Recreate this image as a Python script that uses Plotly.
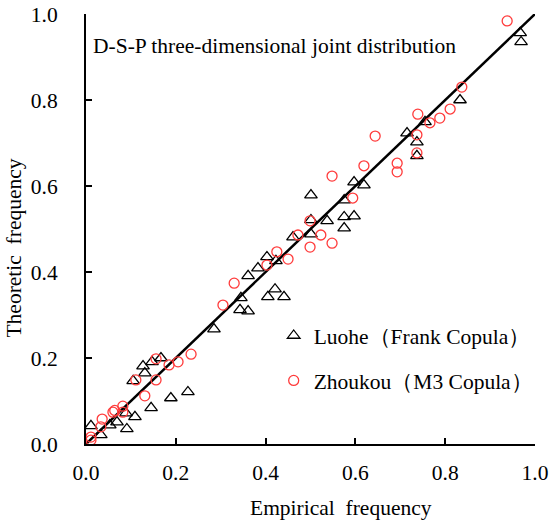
import plotly.graph_objects as go

# Luohe (Frank Copula) - empirical vs theoretic frequency
luohe_emp = [0.011, 0.033, 0.053, 0.069, 0.091, 0.089, 0.109, 0.105, 0.127, 0.131,
             0.147, 0.167, 0.145, 0.189, 0.227, 0.285, 0.343, 0.361, 0.345, 0.405,
             0.421, 0.441, 0.361, 0.383, 0.403, 0.423, 0.461, 0.501, 0.501, 0.501,
             0.537, 0.575, 0.597, 0.575, 0.575, 0.597, 0.619, 0.715, 0.737, 0.737,
             0.755, 0.833, 0.967, 0.969]
luohe_theo = [0.042, 0.021, 0.044, 0.051, 0.035, 0.072, 0.063, 0.147, 0.181, 0.165,
              0.191, 0.200, 0.084, 0.107, 0.121, 0.267, 0.312, 0.309, 0.340, 0.342,
              0.360, 0.342, 0.391, 0.409, 0.435, 0.426, 0.481, 0.488, 0.521, 0.579,
              0.519, 0.528, 0.530, 0.502, 0.567, 0.609, 0.602, 0.723, 0.702, 0.670,
              0.749, 0.800, 0.956, 0.935]

# Zhoukou (M3 Copula)
zhoukou_emp = [0.011, 0.011, 0.033, 0.036, 0.060, 0.064, 0.082, 0.082, 0.111, 0.131,
               0.156, 0.156, 0.185, 0.205, 0.234, 0.305, 0.330, 0.403, 0.425, 0.450,
               0.472, 0.499, 0.499, 0.523, 0.548, 0.548, 0.594, 0.619, 0.644, 0.693,
               0.693, 0.737, 0.737, 0.739, 0.766, 0.788, 0.811, 0.837, 0.938]
zhoukou_theo = [0.009, 0.016, 0.040, 0.058, 0.074, 0.078, 0.088, 0.074, 0.149, 0.112,
                0.149, 0.198, 0.184, 0.191, 0.209, 0.323, 0.374, 0.416, 0.447, 0.430,
                0.486, 0.519, 0.458, 0.486, 0.467, 0.623, 0.572, 0.647, 0.716, 0.653,
                0.633, 0.719, 0.677, 0.767, 0.747, 0.758, 0.779, 0.830, 0.984]

# 1:1 reference line
ref_x = [0.0, 1.0]
ref_y = [0.0, 1.0]

tick_vals = [0.0, 0.2, 0.4, 0.6, 0.8, 1.0]

serif = "Liberation Serif, Times New Roman, serif"
fsize = 21.5

fig = go.Figure()

fig.add_trace(go.Scatter(
    x=ref_x, y=ref_y, mode="lines",
    line=dict(color="black", width=2.5),
    showlegend=False, hoverinfo="skip"))

fig.add_trace(go.Scatter(
    x=luohe_emp, y=luohe_theo, mode="markers",
    name="Luohe（Frank Copula）", legendgroup="a",
    marker=dict(symbol="triangle-up-open", size=11, color="black",
                line=dict(color="black", width=1.3))))

fig.add_trace(go.Scatter(
    x=zhoukou_emp, y=zhoukou_theo, mode="markers",
    name="Zhoukou（M3 Copula）", legendgroup="b",
    marker=dict(symbol="circle-open", size=10, color="#ff3b3b",
                line=dict(color="#ff3b3b", width=1.3))))

axis_common = dict(
    range=[0, 1], tickvals=tick_vals, tickformat=".1f",
    showgrid=False, zeroline=False, automargin=False,
    showline=True, linecolor="black", linewidth=2,
    ticks="inside", ticklen=6, tickwidth=2, tickcolor="black",
    tickfont=dict(family=serif, size=fsize, color="black"),
)

fig.update_xaxes(**axis_common, ticklabelstandoff=8)
fig.update_yaxes(**axis_common, ticklabelstandoff=22)

fig.update_layout(
    width=550, height=527,
    margin=dict(l=86, r=15, t=14, b=83),
    plot_bgcolor="white", paper_bgcolor="white",
    font=dict(family=serif, size=fsize, color="black"),
    legend=dict(
        x=0.418, y=0.30, xanchor="left", yanchor="top",
        bgcolor="rgba(0,0,0,0)", tracegroupgap=14,
        itemwidth=30, font=dict(family=serif, size=fsize)),
    annotations=[
        dict(text="D-S-P three-dimensional joint distribution",
             x=0.012, y=0.925, xref="paper", yref="paper",
             xanchor="left", yanchor="middle", showarrow=False,
             font=dict(family=serif, size=fsize)),
        dict(text="Empirical  frequency",
             x=(341 - 86) / 449, y=-0.148, xref="paper", yref="paper",
             xanchor="center", yanchor="middle", showarrow=False,
             font=dict(family=serif, size=fsize)),
        dict(text="Theoretic  frequency", textangle=-90,
             x=-0.16, y=0.455, xref="paper", yref="paper",
             xanchor="center", yanchor="middle", showarrow=False,
             font=dict(family=serif, size=fsize)),
    ],
)

fig.write_html(
    "out.html",
    config={"displayModeBar": False},
    post_script="document.body.style.margin='0';"
                "document.documentElement.style.overflow='hidden';")
